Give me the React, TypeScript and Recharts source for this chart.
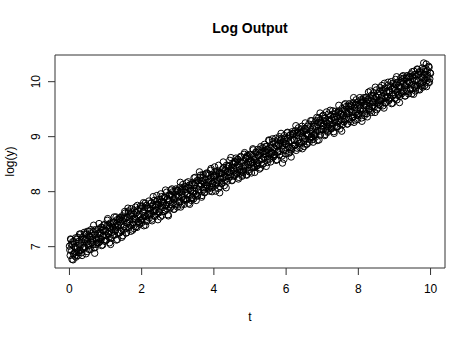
import { ScatterChart, Scatter, XAxis, YAxis, ReferenceArea } from 'recharts';

const FONT = '"Liberation Sans", Arial, sans-serif';

const title = 'Log Output';
const xTicks = [0, 2, 4, 6, 8, 10];
const yTicks = [7, 8, 9, 10];

// observations on the even hundredths of t
const tEven = [
  0, 0.02, 0.04, 0.06, 0.08, 0.1, 0.12, 0.14, 0.16, 0.18,
  0.2, 0.22, 0.24, 0.26, 0.28, 0.3, 0.32, 0.34, 0.36, 0.38,
  0.4, 0.42, 0.44, 0.46, 0.48, 0.5, 0.52, 0.54, 0.56, 0.58,
  0.6, 0.62, 0.64, 0.66, 0.68, 0.7, 0.72, 0.74, 0.76, 0.78,
  0.8, 0.82, 0.84, 0.86, 0.88, 0.9, 0.92, 0.94, 0.96, 0.98,
  1, 1.02, 1.04, 1.06, 1.08, 1.1, 1.12, 1.14, 1.16, 1.18,
  1.2, 1.22, 1.24, 1.26, 1.28, 1.3, 1.32, 1.34, 1.36, 1.38,
  1.4, 1.42, 1.44, 1.46, 1.48, 1.5, 1.52, 1.54, 1.56, 1.58,
  1.6, 1.62, 1.64, 1.66, 1.68, 1.7, 1.72, 1.74, 1.76, 1.78,
  1.8, 1.82, 1.84, 1.86, 1.88, 1.9, 1.92, 1.94, 1.96, 1.98,
  2, 2.02, 2.04, 2.06, 2.08, 2.1, 2.12, 2.14, 2.16, 2.18,
  2.2, 2.22, 2.24, 2.26, 2.28, 2.3, 2.32, 2.34, 2.36, 2.38,
  2.4, 2.42, 2.44, 2.46, 2.48, 2.5, 2.52, 2.54, 2.56, 2.58,
  2.6, 2.62, 2.64, 2.66, 2.68, 2.7, 2.72, 2.74, 2.76, 2.78,
  2.8, 2.82, 2.84, 2.86, 2.88, 2.9, 2.92, 2.94, 2.96, 2.98,
  3, 3.02, 3.04, 3.06, 3.08, 3.1, 3.12, 3.14, 3.16, 3.18,
  3.2, 3.22, 3.24, 3.26, 3.28, 3.3, 3.32, 3.34, 3.36, 3.38,
  3.4, 3.42, 3.44, 3.46, 3.48, 3.5, 3.52, 3.54, 3.56, 3.58,
  3.6, 3.62, 3.64, 3.66, 3.68, 3.7, 3.72, 3.74, 3.76, 3.78,
  3.8, 3.82, 3.84, 3.86, 3.88, 3.9, 3.92, 3.94, 3.96, 3.98,
  4, 4.02, 4.04, 4.06, 4.08, 4.1, 4.12, 4.14, 4.16, 4.18,
  4.2, 4.22, 4.24, 4.26, 4.28, 4.3, 4.32, 4.34, 4.36, 4.38,
  4.4, 4.42, 4.44, 4.46, 4.48, 4.5, 4.52, 4.54, 4.56, 4.58,
  4.6, 4.62, 4.64, 4.66, 4.68, 4.7, 4.72, 4.74, 4.76, 4.78,
  4.8, 4.82, 4.84, 4.86, 4.88, 4.9, 4.92, 4.94, 4.96, 4.98,
  5, 5.02, 5.04, 5.06, 5.08, 5.1, 5.12, 5.14, 5.16, 5.18,
  5.2, 5.22, 5.24, 5.26, 5.28, 5.3, 5.32, 5.34, 5.36, 5.38,
  5.4, 5.42, 5.44, 5.46, 5.48, 5.5, 5.52, 5.54, 5.56, 5.58,
  5.6, 5.62, 5.64, 5.66, 5.68, 5.7, 5.72, 5.74, 5.76, 5.78,
  5.8, 5.82, 5.84, 5.86, 5.88, 5.9, 5.92, 5.94, 5.96, 5.98,
  6, 6.02, 6.04, 6.06, 6.08, 6.1, 6.12, 6.14, 6.16, 6.18,
  6.2, 6.22, 6.24, 6.26, 6.28, 6.3, 6.32, 6.34, 6.36, 6.38,
  6.4, 6.42, 6.44, 6.46, 6.48, 6.5, 6.52, 6.54, 6.56, 6.58,
  6.6, 6.62, 6.64, 6.66, 6.68, 6.7, 6.72, 6.74, 6.76, 6.78,
  6.8, 6.82, 6.84, 6.86, 6.88, 6.9, 6.92, 6.94, 6.96, 6.98,
  7, 7.02, 7.04, 7.06, 7.08, 7.1, 7.12, 7.14, 7.16, 7.18,
  7.2, 7.22, 7.24, 7.26, 7.28, 7.3, 7.32, 7.34, 7.36, 7.38,
  7.4, 7.42, 7.44, 7.46, 7.48, 7.5, 7.52, 7.54, 7.56, 7.58,
  7.6, 7.62, 7.64, 7.66, 7.68, 7.7, 7.72, 7.74, 7.76, 7.78,
  7.8, 7.82, 7.84, 7.86, 7.88, 7.9, 7.92, 7.94, 7.96, 7.98,
  8, 8.02, 8.04, 8.06, 8.08, 8.1, 8.12, 8.14, 8.16, 8.18,
  8.2, 8.22, 8.24, 8.26, 8.28, 8.3, 8.32, 8.34, 8.36, 8.38,
  8.4, 8.42, 8.44, 8.46, 8.48, 8.5, 8.52, 8.54, 8.56, 8.58,
  8.6, 8.62, 8.64, 8.66, 8.68, 8.7, 8.72, 8.74, 8.76, 8.78,
  8.8, 8.82, 8.84, 8.86, 8.88, 8.9, 8.92, 8.94, 8.96, 8.98,
  9, 9.02, 9.04, 9.06, 9.08, 9.1, 9.12, 9.14, 9.16, 9.18,
  9.2, 9.22, 9.24, 9.26, 9.28, 9.3, 9.32, 9.34, 9.36, 9.38,
  9.4, 9.42, 9.44, 9.46, 9.48, 9.5, 9.52, 9.54, 9.56, 9.58,
  9.6, 9.62, 9.64, 9.66, 9.68, 9.7, 9.72, 9.74, 9.76, 9.78,
  9.8, 9.82, 9.84, 9.86, 9.88, 9.9, 9.92, 9.94, 9.96, 9.98,
  10,
];

const logYEven = [
  7.01, 6.84, 7.13, 6.93, 7.05, 6.76, 7.09, 6.89, 6.98, 6.81,
  7.13, 6.98, 6.84, 7.1, 7.23, 6.93, 7.03, 6.89, 7.17, 6.96,
  6.99, 7.23, 7.12, 6.87, 7.16, 7.28, 7.04, 6.95, 7.19, 7.09,
  7.31, 7.07, 7.14, 7.27, 6.98, 6.88, 7.31, 7.04, 7.12, 7.24,
  7.16, 7.42, 7.09, 7.26, 7.13, 7.35, 7.03, 7.3, 7.4, 7.2,
  7.3, 7.12, 7.38, 7.51, 7.23, 7.17, 7.35, 7.04, 7.4, 7.32,
  7.21, 7.43, 7.54, 7.28, 7.36, 7.12, 7.49, 7.4, 7.25, 7.52,
  7.5, 7.39, 7.29, 7.56, 7.2, 7.52, 7.37, 7.61, 7.33, 7.25,
  7.53, 7.7, 7.65, 7.45, 7.57, 7.28, 7.61, 7.41, 7.5, 7.33,
  7.65, 7.5, 7.36, 7.62, 7.75, 7.45, 7.55, 7.41, 7.69, 7.48,
  7.5, 7.74, 7.63, 7.38, 7.67, 7.79, 7.55, 7.46, 7.7, 7.6,
  7.83, 7.59, 7.66, 7.79, 7.5, 7.73, 7.91, 7.56, 7.64, 7.76,
  7.67, 7.93, 7.6, 7.77, 7.64, 7.86, 7.54, 7.81, 7.91, 7.71,
  7.82, 7.64, 7.9, 8.03, 7.75, 7.69, 7.87, 7.56, 7.92, 7.84,
  7.72, 7.94, 8.05, 7.79, 7.87, 7.68, 8.0, 7.91, 7.76, 8.03,
  8.02, 7.91, 7.81, 8.08, 7.72, 8.04, 7.89, 8.13, 7.85, 7.77,
  8.04, 7.87, 8.16, 7.96, 8.08, 7.79, 8.12, 7.92, 8.01, 7.84,
  8.16, 8.01, 7.87, 8.13, 8.26, 7.96, 8.06, 7.92, 8.2, 7.99,
  8.36, 8.26, 8.15, 7.9, 8.19, 8.31, 8.07, 7.98, 8.22, 8.12,
  8.34, 8.1, 8.17, 8.3, 8.01, 8.24, 8.42, 8.07, 8.15, 8.27,
  8.19, 8.45, 8.12, 8.29, 8.16, 8.38, 8.06, 8.33, 7.98, 8.23,
  8.33, 8.15, 8.41, 8.54, 8.26, 8.2, 8.38, 8.07, 8.43, 8.35,
  8.24, 8.46, 8.57, 8.31, 8.39, 8.2, 8.52, 8.43, 8.28, 8.55,
  8.53, 8.42, 8.32, 8.59, 8.23, 8.55, 8.4, 8.64, 8.36, 8.28,
  8.56, 8.39, 8.68, 8.48, 8.6, 8.31, 8.64, 8.44, 8.53, 8.36,
  8.68, 8.53, 8.34, 8.65, 8.78, 8.48, 8.58, 8.44, 8.72, 8.51,
  8.53, 8.77, 8.66, 8.41, 8.7, 8.82, 8.58, 8.49, 8.73, 8.63,
  8.86, 8.62, 8.69, 8.82, 8.53, 8.76, 8.94, 8.59, 8.67, 8.79,
  8.7, 8.96, 8.63, 8.8, 8.67, 8.89, 8.57, 8.84, 8.94, 8.74,
  8.85, 8.67, 8.93, 9.06, 8.78, 8.52, 8.9, 8.59, 8.95, 8.87,
  8.75, 8.97, 9.08, 8.82, 8.9, 8.71, 9.03, 8.63, 8.79, 9.06,
  9.05, 8.94, 8.84, 9.11, 8.75, 9.07, 8.92, 9.16, 8.88, 8.8,
  9.07, 8.9, 9.19, 8.99, 9.11, 8.82, 9.15, 8.95, 9.04, 8.87,
  9.19, 9.04, 8.9, 9.16, 9.29, 8.99, 9.09, 8.95, 9.23, 9.02,
  9.05, 9.29, 9.18, 8.93, 9.22, 9.34, 9.1, 9.43, 9.25, 9.15,
  9.37, 9.13, 9.2, 9.33, 9.04, 9.27, 9.45, 9.1, 9.18, 9.3,
  9.22, 9.48, 9.15, 9.32, 9.19, 9.41, 9.09, 9.36, 9.46, 9.26,
  9.36, 9.18, 9.44, 9.57, 9.29, 9.23, 9.41, 9.1, 9.46, 9.38,
  9.27, 9.49, 9.6, 9.34, 9.42, 9.23, 9.55, 9.46, 9.31, 9.58,
  9.56, 9.45, 9.35, 9.62, 9.26, 9.58, 9.43, 9.67, 9.39, 9.31,
  9.59, 9.42, 9.71, 9.51, 9.63, 9.28, 9.67, 9.47, 9.56, 9.39,
  9.71, 9.56, 9.42, 9.68, 9.81, 9.51, 9.61, 9.47, 9.75, 9.54,
  9.56, 9.8, 9.69, 9.44, 9.73, 9.85, 9.61, 9.52, 9.76, 9.66,
  9.89, 9.65, 9.72, 9.85, 9.56, 9.79, 9.97, 9.62, 9.7, 9.82,
  9.73, 9.99, 9.66, 9.83, 9.7, 9.92, 9.6, 9.87, 9.97, 9.77,
  9.88, 9.7, 9.96, 10.09, 9.81, 9.75, 9.93, 9.62, 9.98, 9.9,
  9.78, 10.0, 10.11, 9.85, 9.93, 9.74, 10.06, 9.97, 9.82, 10.09,
  10.08, 9.97, 9.87, 10.14, 9.78, 10.1, 9.95, 10.19, 9.91, 9.83,
  10.1, 9.93, 10.22, 10.02, 10.14, 9.85, 10.18, 9.98, 10.07, 9.9,
  10.22, 10.07, 9.93, 10.19, 10.32, 10.02, 10.12, 9.98, 10.26, 10.05,
  10.15,
];

// observations on the odd hundredths of t
const tOdd = [
  0.01, 0.03, 0.05, 0.07, 0.09, 0.11, 0.13, 0.15, 0.17, 0.19,
  0.21, 0.23, 0.25, 0.27, 0.29, 0.31, 0.33, 0.35, 0.37, 0.39,
  0.41, 0.43, 0.45, 0.47, 0.49, 0.51, 0.53, 0.55, 0.57, 0.59,
  0.61, 0.63, 0.65, 0.67, 0.69, 0.71, 0.73, 0.75, 0.77, 0.79,
  0.81, 0.83, 0.85, 0.87, 0.89, 0.91, 0.93, 0.95, 0.97, 0.99,
  1.01, 1.03, 1.05, 1.07, 1.09, 1.11, 1.13, 1.15, 1.17, 1.19,
  1.21, 1.23, 1.25, 1.27, 1.29, 1.31, 1.33, 1.35, 1.37, 1.39,
  1.41, 1.43, 1.45, 1.47, 1.49, 1.51, 1.53, 1.55, 1.57, 1.59,
  1.61, 1.63, 1.65, 1.67, 1.69, 1.71, 1.73, 1.75, 1.77, 1.79,
  1.81, 1.83, 1.85, 1.87, 1.89, 1.91, 1.93, 1.95, 1.97, 1.99,
  2.01, 2.03, 2.05, 2.07, 2.09, 2.11, 2.13, 2.15, 2.17, 2.19,
  2.21, 2.23, 2.25, 2.27, 2.29, 2.31, 2.33, 2.35, 2.37, 2.39,
  2.41, 2.43, 2.45, 2.47, 2.49, 2.51, 2.53, 2.55, 2.57, 2.59,
  2.61, 2.63, 2.65, 2.67, 2.69, 2.71, 2.73, 2.75, 2.77, 2.79,
  2.81, 2.83, 2.85, 2.87, 2.89, 2.91, 2.93, 2.95, 2.97, 2.99,
  3.01, 3.03, 3.05, 3.07, 3.09, 3.11, 3.13, 3.15, 3.17, 3.19,
  3.21, 3.23, 3.25, 3.27, 3.29, 3.31, 3.33, 3.35, 3.37, 3.39,
  3.41, 3.43, 3.45, 3.47, 3.49, 3.51, 3.53, 3.55, 3.57, 3.59,
  3.61, 3.63, 3.65, 3.67, 3.69, 3.71, 3.73, 3.75, 3.77, 3.79,
  3.81, 3.83, 3.85, 3.87, 3.89, 3.91, 3.93, 3.95, 3.97, 3.99,
  4.01, 4.03, 4.05, 4.07, 4.09, 4.11, 4.13, 4.15, 4.17, 4.19,
  4.21, 4.23, 4.25, 4.27, 4.29, 4.31, 4.33, 4.35, 4.37, 4.39,
  4.41, 4.43, 4.45, 4.47, 4.49, 4.51, 4.53, 4.55, 4.57, 4.59,
  4.61, 4.63, 4.65, 4.67, 4.69, 4.71, 4.73, 4.75, 4.77, 4.79,
  4.81, 4.83, 4.85, 4.87, 4.89, 4.91, 4.93, 4.95, 4.97, 4.99,
  5.01, 5.03, 5.05, 5.07, 5.09, 5.11, 5.13, 5.15, 5.17, 5.19,
  5.21, 5.23, 5.25, 5.27, 5.29, 5.31, 5.33, 5.35, 5.37, 5.39,
  5.41, 5.43, 5.45, 5.47, 5.49, 5.51, 5.53, 5.55, 5.57, 5.59,
  5.61, 5.63, 5.65, 5.67, 5.69, 5.71, 5.73, 5.75, 5.77, 5.79,
  5.81, 5.83, 5.85, 5.87, 5.89, 5.91, 5.93, 5.95, 5.97, 5.99,
  6.01, 6.03, 6.05, 6.07, 6.09, 6.11, 6.13, 6.15, 6.17, 6.19,
  6.21, 6.23, 6.25, 6.27, 6.29, 6.31, 6.33, 6.35, 6.37, 6.39,
  6.41, 6.43, 6.45, 6.47, 6.49, 6.51, 6.53, 6.55, 6.57, 6.59,
  6.61, 6.63, 6.65, 6.67, 6.69, 6.71, 6.73, 6.75, 6.77, 6.79,
  6.81, 6.83, 6.85, 6.87, 6.89, 6.91, 6.93, 6.95, 6.97, 6.99,
  7.01, 7.03, 7.05, 7.07, 7.09, 7.11, 7.13, 7.15, 7.17, 7.19,
  7.21, 7.23, 7.25, 7.27, 7.29, 7.31, 7.33, 7.35, 7.37, 7.39,
  7.41, 7.43, 7.45, 7.47, 7.49, 7.51, 7.53, 7.55, 7.57, 7.59,
  7.61, 7.63, 7.65, 7.67, 7.69, 7.71, 7.73, 7.75, 7.77, 7.79,
  7.81, 7.83, 7.85, 7.87, 7.89, 7.91, 7.93, 7.95, 7.97, 7.99,
  8.01, 8.03, 8.05, 8.07, 8.09, 8.11, 8.13, 8.15, 8.17, 8.19,
  8.21, 8.23, 8.25, 8.27, 8.29, 8.31, 8.33, 8.35, 8.37, 8.39,
  8.41, 8.43, 8.45, 8.47, 8.49, 8.51, 8.53, 8.55, 8.57, 8.59,
  8.61, 8.63, 8.65, 8.67, 8.69, 8.71, 8.73, 8.75, 8.77, 8.79,
  8.81, 8.83, 8.85, 8.87, 8.89, 8.91, 8.93, 8.95, 8.97, 8.99,
  9.01, 9.03, 9.05, 9.07, 9.09, 9.11, 9.13, 9.15, 9.17, 9.19,
  9.21, 9.23, 9.25, 9.27, 9.29, 9.31, 9.33, 9.35, 9.37, 9.39,
  9.41, 9.43, 9.45, 9.47, 9.49, 9.51, 9.53, 9.55, 9.57, 9.59,
  9.61, 9.63, 9.65, 9.67, 9.69, 9.71, 9.73, 9.75, 9.77, 9.79,
  9.81, 9.83, 9.85, 9.87, 9.89, 9.91, 9.93, 9.95, 9.97, 9.99,
];

const logYOdd = [
  6.94, 7.14, 7.04, 6.77, 7.09, 6.87, 7.0, 6.83, 7.16, 6.9,
  6.96, 7.17, 6.89, 7.03, 6.93, 7.23, 7.1, 6.84, 6.98, 7.13,
  7.26, 6.99, 7.14, 7.23, 6.91, 7.1, 7.02, 7.28, 7.17, 6.95,
  7.24, 7.12, 7.04, 7.39, 7.21, 6.98, 7.27, 7.14, 7.07, 7.31,
  7.07, 7.24, 7.15, 7.35, 7.02, 7.31, 7.19, 7.39, 7.1, 7.27,
  7.12, 7.2, 7.48, 7.24, 7.39, 7.07, 7.43, 7.16, 7.26, 7.37,
  7.35, 7.45, 7.21, 7.3, 7.54, 7.42, 7.13, 7.38, 7.49, 7.25,
  7.45, 7.53, 7.17, 7.48, 7.3, 7.36, 7.64, 7.51, 7.25, 7.43,
  7.42, 7.63, 7.35, 7.49, 7.39, 7.69, 7.56, 7.3, 7.44, 7.59,
  7.52, 7.72, 7.62, 7.35, 7.67, 7.45, 7.58, 7.41, 7.74, 7.48,
  7.44, 7.52, 7.8, 7.56, 7.71, 7.39, 7.75, 7.48, 7.58, 7.69,
  7.52, 7.69, 7.6, 7.8, 7.47, 7.76, 7.64, 7.84, 7.55, 7.72,
  7.77, 7.85, 7.49, 7.8, 7.62, 7.68, 7.96, 7.83, 7.57, 7.75,
  7.8, 7.9, 7.66, 7.75, 7.99, 7.87, 7.58, 7.83, 7.94, 7.7,
  8.03, 7.76, 7.91, 8.0, 7.68, 7.87, 7.79, 8.05, 7.94, 7.72,
  8.02, 7.9, 7.82, 8.17, 7.99, 7.76, 8.05, 7.92, 7.85, 8.09,
  7.99, 8.09, 7.85, 7.94, 8.18, 8.06, 7.77, 8.02, 8.13, 7.89,
  7.89, 7.97, 8.25, 8.01, 8.16, 7.84, 8.2, 7.93, 8.03, 8.14,
  8.1, 8.3, 8.2, 7.93, 8.25, 8.03, 8.16, 7.99, 8.32, 8.06,
  8.12, 8.33, 8.05, 8.19, 8.09, 8.39, 8.26, 8.0, 8.14, 8.29,
  8.29, 8.37, 8.01, 8.32, 8.14, 8.2, 8.48, 8.35, 8.09, 8.27,
  8.16, 8.33, 8.24, 8.44, 8.11, 8.4, 8.28, 8.48, 8.19, 8.36,
  8.47, 8.35, 8.27, 8.62, 8.44, 8.21, 8.5, 8.37, 8.3, 8.54,
  8.61, 8.34, 8.49, 8.58, 8.26, 8.45, 8.37, 8.63, 8.52, 8.3,
  8.35, 8.43, 8.71, 8.47, 8.62, 8.3, 8.66, 8.39, 8.49, 8.6,
  8.57, 8.67, 8.43, 8.52, 8.76, 8.64, 8.35, 8.6, 8.71, 8.47,
  8.48, 8.65, 8.56, 8.76, 8.43, 8.72, 8.6, 8.8, 8.51, 8.68,
  8.74, 8.82, 8.46, 8.77, 8.59, 8.65, 8.93, 8.8, 8.54, 8.72,
  8.7, 8.91, 8.63, 8.77, 8.67, 8.97, 8.84, 8.58, 8.72, 8.87,
  9.0, 8.73, 8.88, 8.97, 8.65, 8.84, 8.76, 9.02, 8.91, 8.69,
  8.87, 9.07, 8.97, 8.7, 9.02, 8.8, 8.93, 8.76, 9.09, 8.83,
  9.05, 8.93, 8.85, 9.2, 9.02, 8.79, 9.08, 8.95, 8.88, 9.12,
  9.06, 9.14, 8.78, 9.09, 8.91, 8.97, 9.25, 9.12, 8.86, 9.04,
  9.02, 9.23, 8.95, 9.09, 8.99, 9.29, 9.16, 8.9, 9.04, 9.19,
  8.99, 9.07, 9.35, 9.11, 9.26, 8.94, 9.3, 9.03, 9.13, 9.24,
  9.19, 9.39, 9.29, 9.02, 9.34, 9.12, 9.25, 9.08, 9.41, 9.15,
  9.28, 9.38, 9.14, 9.23, 9.47, 9.35, 9.06, 9.31, 9.42, 9.18,
  9.19, 9.36, 9.27, 9.47, 9.14, 9.43, 9.31, 9.51, 9.22, 9.39,
  9.58, 9.31, 9.46, 9.55, 9.23, 9.42, 9.34, 9.6, 9.49, 9.27,
  9.56, 9.44, 9.36, 9.71, 9.53, 9.3, 9.59, 9.46, 9.39, 9.63,
  9.39, 9.56, 9.47, 9.67, 9.34, 9.63, 9.51, 9.71, 9.42, 9.59,
  9.64, 9.72, 9.36, 9.67, 9.49, 9.55, 9.83, 9.7, 9.44, 9.62,
  9.75, 9.63, 9.55, 9.9, 9.72, 9.49, 9.78, 9.65, 9.58, 9.82,
  9.57, 9.65, 9.93, 9.69, 9.84, 9.52, 9.88, 9.61, 9.71, 9.82,
  9.73, 9.94, 9.66, 9.8, 9.7, 10.0, 9.87, 9.61, 9.75, 9.9,
  9.84, 10.04, 9.94, 9.67, 9.99, 9.77, 9.9, 9.73, 10.06, 9.8,
  10.09, 9.82, 9.97, 10.06, 9.74, 9.93, 9.85, 10.11, 10.0, 9.78,
  9.99, 10.09, 9.85, 9.94, 10.18, 10.06, 9.77, 10.02, 10.13, 9.89,
  10.03, 10.23, 10.13, 9.86, 10.18, 9.96, 10.09, 9.92, 10.25, 9.99,
  10.34, 10.13, 10.04, 10.24, 9.91, 10.2, 10.08, 10.28, 9.99, 10.16,
];

const data = [
  ...tEven.map((t, i) => ({ t, y: logYEven[i] })),
  ...tOdd.map((t, i) => ({ t, y: logYOdd[i] })),
];

const X_DOMAIN: [number, number] = [-0.4, 10.4];
const Y_DOMAIN: [number, number] = [6.612, 10.485];

const XTick = ({ x, y, payload }: any) => (
  <text x={x} y={y + 16} textAnchor="middle" fontSize={12} fontFamily={FONT} fill="#000">
    {payload.value}
  </text>
);

const YTick = ({ x, y, payload }: any) => (
  <text
    x={x - 6}
    y={y}
    transform={`rotate(-90 ${x - 6} ${y})`}
    textAnchor="middle"
    fontSize={12}
    fontFamily={FONT}
    fill="#000"
  >
    {payload.value}
  </text>
);

const circle = (p: any) => (
  <circle cx={p.cx} cy={p.cy} r={3.2} fill="none" stroke="#000" strokeWidth={1} />
);

export default function App() {
  return (
    <div style={{ position: 'absolute', left: 0, top: 0, width: 474, height: 338, background: '#fff' }}>
      <ScatterChart width={474} height={338} margin={{ top: 55, right: 29, bottom: 0, left: 0 }}>
        <XAxis
          type="number"
          dataKey="t"
          domain={X_DOMAIN}
          ticks={xTicks}
          height={70}
          axisLine={false}
          tickSize={7}
          tickLine={{ stroke: '#333' }}
          tick={<XTick />}
          label={{ value: 't', position: 'insideBottom', offset: 17, fontSize: 12, fontFamily: FONT, fill: '#000' }}
        />
        <YAxis
          type="number"
          dataKey="y"
          domain={Y_DOMAIN}
          ticks={yTicks}
          width={55}
          axisLine={false}
          tickSize={7}
          tickLine={{ stroke: '#333' }}
          tick={<YTick />}
          label={{
            value: 'log(y)',
            angle: -90,
            position: 'insideLeft',
            offset: 10,
            fontSize: 12,
            fontFamily: FONT,
            fill: '#000',
            style: { textAnchor: 'middle' },
          }}
        />
        <ReferenceArea
          x1={X_DOMAIN[0]}
          x2={X_DOMAIN[1]}
          y1={Y_DOMAIN[0]}
          y2={Y_DOMAIN[1]}
          fill="none"
          stroke="#333"
          strokeWidth={1}
          ifOverflow="visible"
        />
        <Scatter data={data} shape={circle} isAnimationActive={false} />
      </ScatterChart>
      <svg width={474} height={50} style={{ position: 'absolute', left: 0, top: 0, pointerEvents: 'none' }}>
        <text x={250} y={33} textAnchor="middle" fontSize={14} fontWeight="bold" fontFamily={FONT} fill="#000">
          {title}
        </text>
      </svg>
    </div>
  );
}
